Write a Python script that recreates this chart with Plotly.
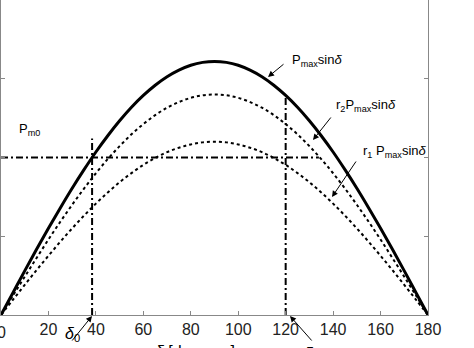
import plotly.graph_objects as go

# ---- data ----
delta_deg = [0, 5, 10, 15, 20, 25, 30, 35, 40, 45, 50, 55, 60, 65, 70, 75, 80, 85, 90,
             95, 100, 105, 110, 115, 120, 125, 130, 135, 140, 145, 150, 155, 160, 165, 170, 175, 180]
p_pre = [0, 0.140, 0.280, 0.417, 0.551, 0.680, 0.805, 0.923, 1.035, 1.138, 1.233, 1.319, 1.394, 1.459, 1.513,
         1.555, 1.586, 1.604, 1.610,
         1.604, 1.586, 1.555, 1.513, 1.459, 1.394, 1.319, 1.233, 1.138, 1.035, 0.923, 0.805, 0.680, 0.551,
         0.417, 0.280, 0.140, 0]
p_r2 = [0, 0.122, 0.243, 0.362, 0.479, 0.592, 0.700, 0.803, 0.900, 0.990, 1.072, 1.147, 1.212, 1.269, 1.316,
        1.352, 1.379, 1.395, 1.400,
        1.395, 1.379, 1.352, 1.316, 1.269, 1.212, 1.147, 1.072, 0.990, 0.900, 0.803, 0.700, 0.592, 0.479,
        0.362, 0.243, 0.122, 0]
p_r1 = [0, 0.096, 0.191, 0.285, 0.376, 0.465, 0.550, 0.631, 0.707, 0.778, 0.843, 0.901, 0.953, 0.997, 1.034,
        1.062, 1.083, 1.096, 1.100,
        1.096, 1.083, 1.062, 1.034, 0.997, 0.953, 0.901, 0.843, 0.778, 0.707, 0.631, 0.550, 0.465, 0.376,
        0.285, 0.191, 0.096, 0]
pm0 = 1.0
pm0_line_x = [0, 134]
delta0 = 38.4
delta0_top = 1.12
delta_c = 120
delta_c_top = 1.395
x_ticks = [0, 20, 40, 60, 80, 100, 120, 140, 160, 180]
x_ticklabels = ["", "20", "40", "60", "80", "100", "120", "140", "160", "180"]
y_ticks = [0, 0.5, 1.0, 1.5, 2.0]

W, H = 474, 348
ML, MR, MT, MB = 1, 46, 0, 33
pw = W - ML - MR
ph = H - MT - MB


def px2x(px):
    return (px - ML) / pw


def py2y(py):
    return (MT + ph - py) / ph


FONT = "Liberation Sans, Arial, Helvetica, sans-serif"
DASHDOT = "7px,3px,2px,3px"

fig = go.Figure()
fig.add_trace(go.Scatter(x=delta_deg, y=p_r1, mode="lines", line=dict(color="black", width=2, dash="dot", shape="spline")))
fig.add_trace(go.Scatter(x=delta_deg, y=p_r2, mode="lines", line=dict(color="black", width=2, dash="dot", shape="spline")))
fig.add_trace(go.Scatter(x=delta_deg, y=p_pre, mode="lines", line=dict(color="black", width=3, shape="spline")))
fig.add_trace(go.Scatter(x=pm0_line_x, y=[pm0, pm0], mode="lines", line=dict(color="black", width=2, dash=DASHDOT)))
fig.add_trace(go.Scatter(x=[delta0, delta0], y=[0, delta0_top], mode="lines", line=dict(color="black", width=2, dash=DASHDOT)))
fig.add_trace(go.Scatter(x=[delta_c, delta_c], y=[0, delta_c_top], mode="lines", line=dict(color="black", width=2, dash=DASHDOT)))

ann = []


def arrow(tx, ty, hx, hy):
    ann.append(dict(x=px2x(hx), y=py2y(hy), ax=tx - hx, ay=ty - hy, xref="paper", yref="paper",
                    axref="pixel", ayref="pixel",
                    text="", showarrow=True, arrowhead=2, arrowsize=1.2, arrowwidth=1, arrowcolor="black"))


def label(text, px, py, size=13, xanchor="left", yanchor="middle", color="black"):
    ann.append(dict(x=px2x(px), y=py2y(py), xref="paper", yref="paper", text=text, showarrow=False,
                    xanchor=xanchor, yanchor=yanchor, font=dict(family=FONT, size=size, color=color)))


arrow(285, 63, 268, 77)
arrow(332, 116, 313, 140)
arrow(357, 160, 332, 197)
arrow(71, 342, 92, 316)
arrow(313, 342, 290, 316)

label("P<sub>max</sub>sin<i>δ</i>", 290, 60)
label("r<sub>2</sub>P<sub>max</sub>sin<i>δ</i>", 334, 105)
label("r<sub>1</sub> P<sub>max</sub>sin<i>δ</i>", 361, 152)
label("P<sub>m0</sub>", 17, 129)
label("<i>δ</i><sub>0</sub>", 63, 334, size=16)
label("<i>δ</i><sub>c</sub>", 302, 354, size=16)
label("<i>δ</i> [degrees]", 195, 341, size=16, xanchor="center", yanchor="top")
label("0", 1, 332, size=16, xanchor="center", color="#222")

fig.update_layout(
    width=W, height=H,
    margin=dict(l=ML, r=MR, t=MT, b=MB, pad=0),
    paper_bgcolor="white", plot_bgcolor="white",
    showlegend=False,
    annotations=ann,
    font=dict(family=FONT, size=16, color="#222"),
)
fig.update_xaxes(range=[0, 180], tickvals=x_ticks, ticktext=x_ticklabels, ticks="inside", ticklen=4, tickcolor="#888",
                 showline=True, linecolor="#888", linewidth=1, showgrid=False, zeroline=False,
                 tickfont=dict(family=FONT, size=16, color="#222"))
fig.update_yaxes(range=[0, 2.0], tickvals=y_ticks, ticks="inside", ticklen=4, tickcolor="#888",
                 showline=True, linecolor="#888", linewidth=1, mirror="ticks", showgrid=False,
                 zeroline=False, showticklabels=False)

fig.write_html("out.html")
